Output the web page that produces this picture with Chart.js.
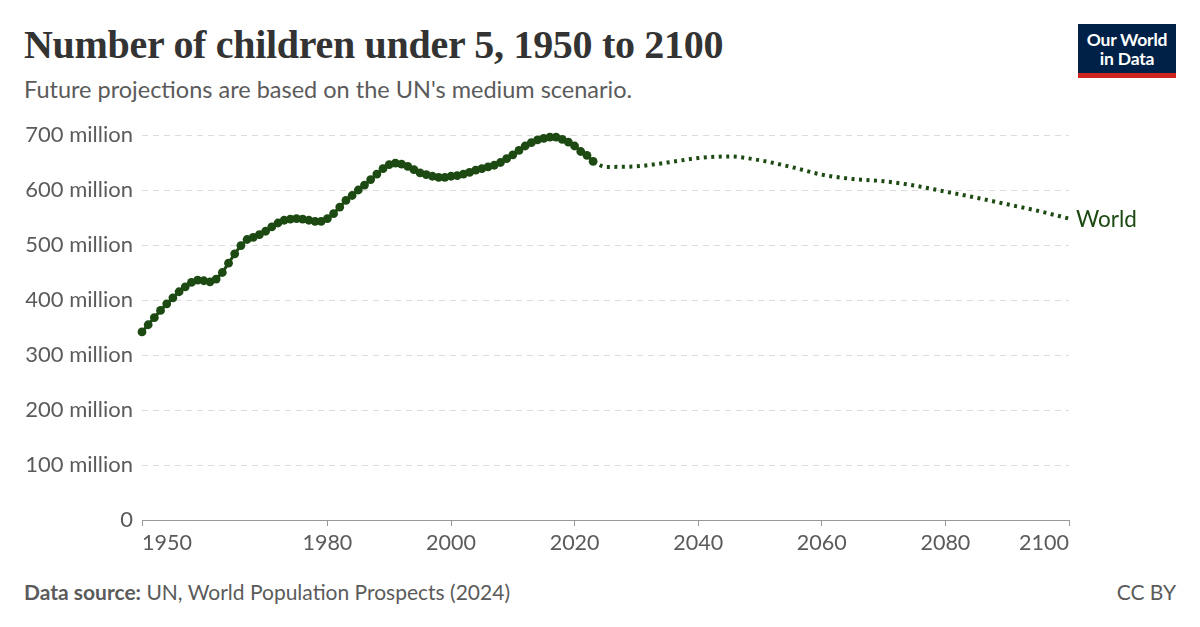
<!DOCTYPE html>
<html>
<head>
<meta charset="utf-8">
<script src="https://cdn.jsdelivr.net/npm/chart.js@4.4.1/dist/chart.umd.min.js"></script>
<style>
    body { margin: 0; width: 1200px; height: 627px; background: #fff; position: relative; overflow: hidden; font-family: Lato, sans-serif; }
    #title { position: absolute; left: 24px; top: 21px; font-family: 'Liberation Serif', serif; font-weight: bold; font-size: 40px; color: #333; white-space: nowrap; letter-spacing: -0.3px; }
    #subtitle { position: absolute; left: 24px; top: 75px; font-size: 23.5px; color: #5b5b5b; white-space: nowrap; }
    #logo { position: absolute; left: 1078px; top: 24px; width: 98px; background: #002147; border-bottom: 5px solid #ce261e; color: #fff; font-weight: bold; font-size: 17.5px; line-height: 19px; text-align: center; padding-top: 6px; box-sizing: content-box; height: 43px; letter-spacing: -0.2px; }
    #footer { position: absolute; left: 24px; top: 579px; font-size: 21px; color: #5b5b5b; white-space: nowrap; }
    #license { position: absolute; right: 24px; top: 579px; font-size: 21px; color: #5b5b5b; }
    #wrap { position: absolute; left: 0; top: 110px; width: 1200px; height: 450px; }
</style>
</head>
<body>
<div id="title">Number of children under 5, 1950 to 2100</div>
<div id="subtitle">Future projections are based on the UN's medium scenario.</div>
<div id="logo">Our World<br>in Data</div>
<div id="wrap"><canvas id="grafico"></canvas></div>
<div id="footer"><b>Data source:</b> UN, World Population Prospects (2024)</div>
<div id="license">CC BY</div>

<script>
// estimates (millions), 1950-2023 one per year
const startYear = 1950;
const historico = [
    342, 355, 368, 381, 393, 404, 415, 424, 432, 436,
    435, 433, 438, 450, 467, 484, 499, 510, 514, 519,
    525, 533, 540, 545, 547, 548, 547, 545, 543, 543,
    548, 557, 569, 581, 590, 600, 609, 619, 629, 639,
    646, 649, 647, 643, 637, 631, 628, 625, 623, 623,
    625, 626, 629, 632, 636, 639, 642, 645, 650, 657,
    664, 672, 680, 686, 691, 694, 696, 696, 692, 687,
    680, 670, 663, 652
];

// UN medium scenario projection
const proyYears = [2023, 2025, 2030, 2035, 2040, 2045, 2050, 2055, 2060, 2065, 2070, 2075, 2080, 2085, 2090, 2095, 2100];
const proyValues = [652, 642, 643, 650, 658, 661, 654, 642, 628, 620, 616, 608, 597, 586, 574, 562, 548];

const xTicks = [1950, 1980, 2000, 2020, 2040, 2060, 2080, 2100];
const yTicks = [0, 100, 200, 300, 400, 500, 600, 700];
const serieLabel = "World";

const verde = "#1c4a12";
const gris = "#5b5b5b";

const puntosHist = historico.map(function(v, i){ return {x: startYear + i, y: v}; });
const puntosProy = proyYears.map(function(y, i){ return {x: y, y: proyValues[i]}; });

// x labels: first one left aligned, last one right aligned, like OWID
const etiquetas = {
    id: "etiquetas",
    afterDraw: function(chart){
        const ctx = chart.ctx;
        const x = chart.scales.x;
        const y = chart.scales.y;
        ctx.save();
        ctx.font = "21.5px Lato";
        ctx.fillStyle = gris;
        ctx.textBaseline = "middle";
        xTicks.forEach(function(t, i){
            const px = x.getPixelForValue(t);
            if(i === 0){
                ctx.textAlign = "left";
            }else if(i === xTicks.length - 1){
                ctx.textAlign = "right";
            }else{
                ctx.textAlign = "center";
            }
            ctx.fillText(String(t), px, x.top + 23);
        });
        const ult = puntosProy[puntosProy.length - 1];
        ctx.font = "22.5px Lato";
        ctx.fillStyle = verde;
        ctx.textAlign = "left";
        ctx.fillText(serieLabel, x.getPixelForValue(ult.x) + 7, y.getPixelForValue(ult.y) + 1);
        ctx.restore();
    }
};

new Chart(document.getElementById("grafico"), {
    type: "line",
    plugins: [etiquetas],
    data: {
        datasets: [
            {
                label: serieLabel,
                data: puntosHist,
                borderColor: verde,
                backgroundColor: verde,
                borderWidth: 3,
                pointRadius: 4.4,
                pointBorderWidth: 0,
                tension: 0,
                clip: false
            },
            {
                label: serieLabel + " (projection)",
                data: puntosProy,
                borderColor: verde,
                borderWidth: 4,
                borderDash: [3, 4.5],
                pointRadius: 0,
                cubicInterpolationMode: "monotone",
                clip: false
            }
        ]
    },
    options: {
        responsive: true,
        maintainAspectRatio: false,
        animation: false,
        layout: { padding: { left: 0, right: 131, top: 25, bottom: 0 } },
        plugins: {
            legend: { display: false },
            tooltip: { enabled: false }
        },
        scales: {
            x: {
                type: "linear",
                min: 1950,
                max: 2100,
                afterBuildTicks: function(scale){
                    scale.ticks = xTicks.map(function(v){ return {value: v}; });
                },
                afterFit: function(scale){ scale.height = 40; },
                ticks: { display: false },
                grid: { drawOnChartArea: false, drawTicks: true, tickLength: 6, color: "#999" },
                border: { display: true, color: "#999", width: 1 }
            },
            y: {
                min: 0,
                max: 700,
                afterBuildTicks: function(scale){
                    scale.ticks = yTicks.map(function(v){ return {value: v}; });
                },
                afterFit: function(scale){ scale.width = 142; },
                ticks: {
                    padding: 9,
                    color: gris,
                    font: { family: "Lato", size: 22 },
                    callback: function(v){ return v === 0 ? "0" : v + " million"; }
                },
                grid: { drawTicks: false, color: "#dcdcdc", lineWidth: 1 },
                border: { display: false, dash: [6, 5] }
            }
        }
    }
});
</script>
</body>
</html>
